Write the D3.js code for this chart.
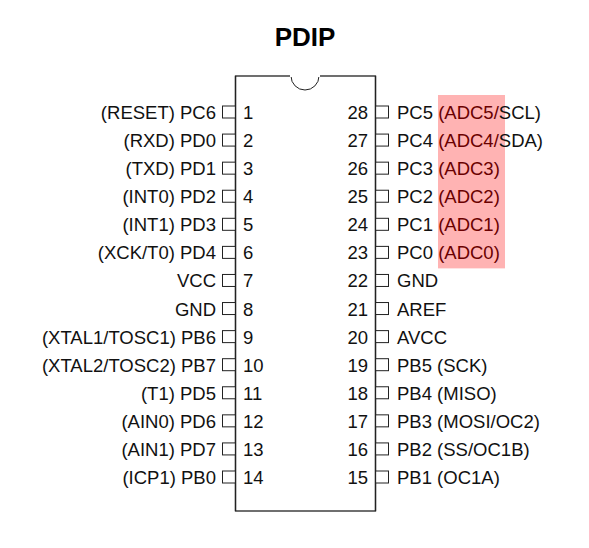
<!DOCTYPE html>
<html><head><meta charset="utf-8">
<script src="https://cdn.jsdelivr.net/npm/d3@7"></script>
<style>body{margin:0;background:#fff}text{font-family:"Liberation Sans",Arial,sans-serif}</style>
</head><body>
<svg id="chart" width="589" height="548"></svg>
<script>
const leftPins = ["(RESET) PC6","(RXD) PD0","(TXD) PD1","(INT0) PD2","(INT1) PD3","(XCK/T0) PD4","VCC","GND","(XTAL1/TOSC1) PB6","(XTAL2/TOSC2) PB7","(T1) PD5","(AIN0) PD6","(AIN1) PD7","(ICP1) PB0"];
const leftNums = d3.range(1, 15);
// right side listed top to bottom: [pin name, highlighted part, rest]
const rightPins = [["PC5 ","(ADC5/","SCL)"],["PC4 ","(ADC4/","SDA)"],["PC3 ","(ADC3)",""],["PC2 ","(ADC2)",""],["PC1 ","(ADC1)",""],["PC0 ","(ADC0)",""],["GND","",""],["AREF","",""],["AVCC","",""],["PB5 (SCK)","",""],["PB4 (MISO)","",""],["PB3 (MOSI/OC2)","",""],["PB2 (SS/OC1B)","",""],["PB1 (OC1A)","",""]];
const rightNums = d3.range(28, 14, -1);

const svg = d3.select("#chart");
const y = d3.scalePoint().domain(d3.range(14)).range([112, 477]);
const bodyL = 235.5, bodyR = 375.5, sq = 12;

svg.append("text").attr("x", 305).attr("y", 46).attr("text-anchor", "middle")
  .attr("font-size", 26).attr("font-weight", "bold").text("PDIP");

// highlight box
svg.append("rect").attr("x", 438).attr("y", y(0) - 17).attr("width", 67)
  .attr("height", y(5) - y(0) + 33).attr("fill", "#ffb3b3");

svg.append("rect").attr("x", bodyL).attr("y", 76).attr("width", bodyR - bodyL).attr("height", 435)
  .attr("fill", "none").attr("stroke", "#222").attr("stroke-width", 1.3);
svg.append("path").attr("d", d3.arc()({innerRadius: 0, outerRadius: 14, startAngle: Math.PI / 2, endAngle: Math.PI * 1.5}))
  .attr("transform", "translate(305,76)").attr("fill", "none").attr("stroke", "#222").attr("stroke-width", 1);
svg.append("rect").attr("x", 290).attr("y", 75).attr("width", 30).attr("height", 2).attr("fill", "#fff");

const g = svg.append("g").attr("font-size", 18.5).attr("fill", "#111");
y.domain().forEach(i => {
  const cy = y(i);
  g.append("rect").attr("x", bodyL - sq - 1).attr("y", cy - sq / 2).attr("width", sq + 1).attr("height", sq)
    .attr("fill", "#fff").attr("stroke", "#222").attr("stroke-width", 1);
  g.append("rect").attr("x", bodyR).attr("y", cy - sq / 2).attr("width", sq + 1).attr("height", sq)
    .attr("fill", "#fff").attr("stroke", "#222").attr("stroke-width", 1);
  g.append("text").attr("x", 216).attr("y", cy + 7).attr("text-anchor", "end").text(leftPins[i]);
  g.append("text").attr("x", 243).attr("y", cy + 7).text(leftNums[i]);
  g.append("text").attr("x", 368).attr("y", cy + 7).attr("text-anchor", "end").text(rightNums[i]);
  const t = g.append("text").attr("x", 397).attr("y", cy + 7);
  const [a, b, c] = rightPins[i];
  t.append("tspan").text(a);
  if (b) t.append("tspan").attr("fill", "#6a0000").text(b);
  if (c) t.append("tspan").text(c);
});
// re-draw body edges over squares
svg.append("line").attr("x1", bodyL).attr("x2", bodyL).attr("y1", 76).attr("y2", 511).attr("stroke", "#222").attr("stroke-width", 1.3);
svg.append("line").attr("x1", bodyR).attr("x2", bodyR).attr("y1", 76).attr("y2", 511).attr("stroke", "#222").attr("stroke-width", 1.3);
</script>
</body></html>
